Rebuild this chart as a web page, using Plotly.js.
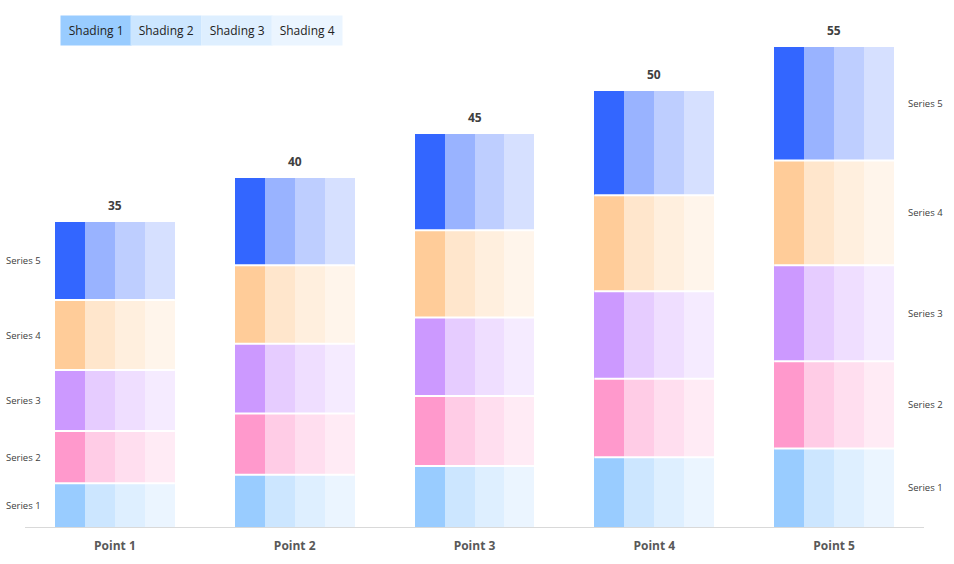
<!DOCTYPE html>
<html>
<head>
<meta charset="utf-8">
<script src="https://cdn.plot.ly/plotly-3.0.1.min.js"></script>
<style>html,body{margin:0;padding:0;background:#fff;}#chart{width:954px;height:564px;}</style>
</head>
<body>
<div id="chart"></div>
<script>
// ---- data ----
var points = ["Point 1", "Point 2", "Point 3", "Point 4", "Point 5"];
var seriesNames = ["Series 1", "Series 2", "Series 3", "Series 4", "Series 5"];
var shadingNames = ["Shading 1", "Shading 2", "Shading 3", "Shading 4"];
var series1 = [5, 6, 7, 8, 9];
var series2 = [6, 7, 8, 9, 10];
var series3 = [7, 8, 9, 10, 11];
var series4 = [8, 9, 10, 11, 12];
var series5 = [9, 10, 11, 12, 13];
var seriesValues = [series1, series2, series3, series4, series5];

// ---- styles ----
var baseColors = ["#99CCFF", "#FF99CC", "#CC99FF", "#FFCC99", "#3366FF"];
var shadeAlpha = [1, 0.5, 0.32, 0.2];
function blend(hex, a) {
  var r = parseInt(hex.substr(1,2),16), g = parseInt(hex.substr(3,2),16), b = parseInt(hex.substr(5,2),16);
  function c(v){ return Math.round(255 - (255 - v) * a); }
  return "rgb(" + c(r) + "," + c(g) + "," + c(b) + ")";
}
var FONT = "Open Sans, Liberation Sans, sans-serif";
var shadeW = 1/6;
var nShade = shadingNames.length;

var traces = [];
seriesValues.forEach(function(vals, s) {
  for (var j = 0; j < nShade; j++) {
    traces.push({
      type: "bar",
      name: seriesNames[s] + " " + shadingNames[j],
      x: points.map(function(p, i){ return i + (j - (nShade - 1) / 2) * shadeW; }),
      y: vals,
      width: shadeW,
      marker: { color: blend(baseColors[s], shadeAlpha[j]), line: { width: 0 } },
      hoverinfo: "y",
      showlegend: false
    });
  }
});

var shapes = [];
var annotations = [];
var half = nShade * shadeW / 2;
points.forEach(function(p, i) {
  var cum = 0;
  seriesValues.forEach(function(vals, s) {
    var mid = cum + vals[i] / 2;
    cum += vals[i];
    if (s < seriesValues.length - 1) {
      shapes.push({ type: "line", xref: "x", yref: "y", x0: i - half, x1: i + half, y0: cum, y1: cum,
                    line: { color: "#FFFFFF", width: 2 } });
    }
    if (i === 0) {
      annotations.push({ xref: "x", yref: "y", x: i - half, y: mid, text: seriesNames[s], showarrow: false,
                         xanchor: "right", xshift: -12, font: { family: FONT, size: 9.5, color: "#404040" } });
    }
    if (i === points.length - 1) {
      annotations.push({ xref: "x", yref: "y", x: i + half, y: mid, text: seriesNames[s], showarrow: false,
                         xanchor: "left", xshift: 12, font: { family: FONT, size: 9.5, color: "#404040" } });
    }
  });
  annotations.push({ xref: "x", yref: "y", x: i, y: cum, text: "<b>" + cum + "</b>", showarrow: false,
                     yanchor: "bottom", yshift: 6, font: { family: FONT, size: 12, color: "#404040" } });
});

// shading legend boxes
var plotL = 25, plotW = 899, plotTop = 10, plotH = 517;
shadingNames.forEach(function(n, j) {
  var x0 = 60 + j * 70.3;
  annotations.push({ xref: "paper", yref: "paper", x: (x0 - plotL) / plotW, y: (527 - 15) / plotH,
                     xanchor: "left", yanchor: "top", text: n, showarrow: false,
                     width: 70.3, height: 29, borderpad: 0, bgcolor: blend(baseColors[0], shadeAlpha[j]),
                     align: "center", valign: "middle",
                     font: { family: FONT, size: 12, color: "#222222" } });
});

var layout = {
  width: 954, height: 564,
  margin: { l: plotL, r: 954 - plotL - plotW, t: plotTop, b: 564 - plotTop - plotH },
  paper_bgcolor: "#FFFFFF", plot_bgcolor: "#FFFFFF",
  barmode: "stack", bargap: 0,
  showlegend: false,
  xaxis: {
    range: [-0.5, 4.5], tickvals: points.map(function(p,i){return i;}),
    ticktext: points.map(function(p){ return "<b>" + p + "</b>"; }),
    showline: true, linecolor: "#D9D9D9", linewidth: 1, showgrid: false, zeroline: false,
    ticks: "", ticklen: 0, ticklabelstandoff: 8, tickfont: { family: FONT, size: 12, color: "#595959" }
  },
  yaxis: { range: [0, 59.24], visible: false, showgrid: false, zeroline: false },
  shapes: shapes,
  annotations: annotations
};

Plotly.newPlot("chart", traces, layout, { displayModeBar: false, staticPlot: true });
</script>
</body>
</html>
